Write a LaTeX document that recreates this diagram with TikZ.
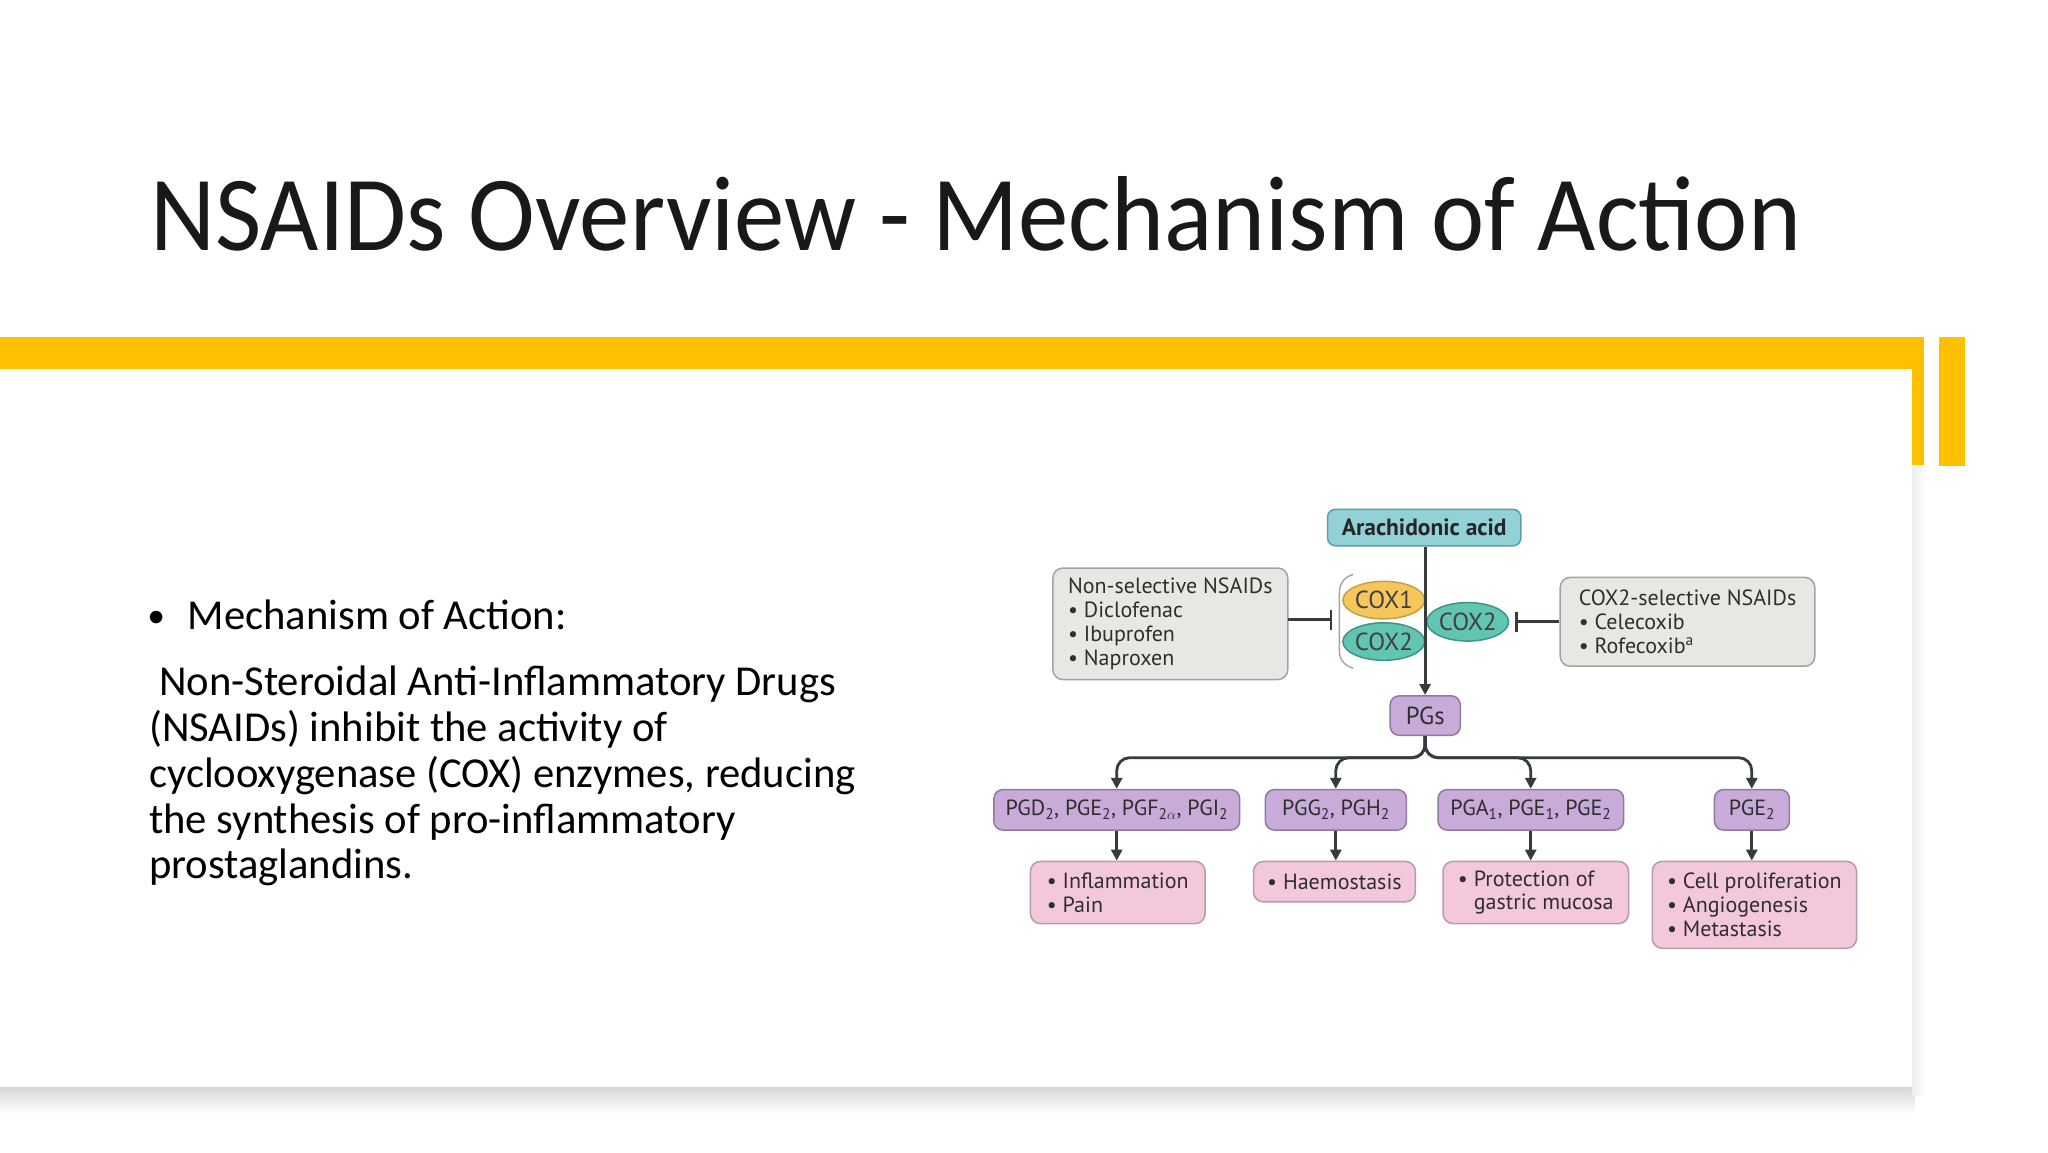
\documentclass[tikz,border=0pt]{standalone}
\usepackage{fontspec}
\setmainfont{Carlito}
\newfontfamily\dfont{PT Sans}
\usetikzlibrary{arrows.meta,calc,shapes.geometric}
\definecolor{gold}{HTML}{FFC000}
\definecolor{txt}{HTML}{2E2E2E}
\definecolor{arr}{HTML}{353C3E}
\definecolor{tealF}{HTML}{92D2D6}
\definecolor{tealD}{HTML}{5E9EA3}
\definecolor{grayF}{HTML}{E7E7E4}
\definecolor{grayD}{HTML}{A3A39F}
\definecolor{cox1F}{HTML}{F4C65C}
\definecolor{cox1D}{HTML}{C9A040}
\definecolor{cox2F}{HTML}{62C4B2}
\definecolor{cox2D}{HTML}{3E9488}
\definecolor{purF}{HTML}{C8ABD8}
\definecolor{purD}{HTML}{8E7AA2}
\definecolor{pinkF}{HTML}{F3C8DD}
\definecolor{pinkD}{HTML}{B999AB}
\tikzset{
  dtext/.style={font=\dfont\fontsize{22.3}{24}\selectfont, text=txt},
  tealbox/.style={draw=tealD, fill=tealF, line width=1.5pt, rounded corners=8pt, inner sep=0pt, text=black!85, font=\dfont\bfseries\fontsize{23.8}{25}\selectfont},
  graybox/.style={dtext, draw=grayD, fill=grayF, line width=1.5pt, rounded corners=10pt, inner sep=0pt, align=left, anchor=west},
  purbox/.style={dtext, draw=purD, fill=purF, line width=1.5pt, rounded corners=9pt, inner sep=0pt, text=black!82},
  pinkbox/.style={dtext, draw=pinkD, fill=pinkF, line width=1.5pt, rounded corners=10pt, inner sep=0pt, align=left, anchor=north, text=black!82},
  coxone/.style={font=\dfont\fontsize{25}{26}\selectfont, text=black!75, ellipse, draw=cox1D, fill=cox1F, line width=1.5pt, inner sep=0pt, minimum width=71pt, minimum height=38pt},
  coxtwo/.style={coxone, draw=cox2D, fill=cox2F},
  flow/.style={draw=arr, line width=2.8pt, -{Triangle[length=11pt,width=11pt]}},
  inhib/.style={draw=arr, line width=2.8pt, -{Bar[width=20pt,line width=2.8pt]}},
  body/.style={font=\fontsize{43.2}{46}\selectfont, text=black, inner sep=0pt, anchor=base west},
}
\begin{document}
\begin{tikzpicture}[x=1pt,y=-1pt]
\useasboundingbox (0,0) rectangle (2048,1152);
\fill[white] (0,0) rectangle (2048,1152);
\begin{scope}[scale=0.987, transform shape]
% slide decoration
\fill[gold] (0,341) rectangle (1949,472);
\fill[gold] (1965,341) rectangle (1991,472);
\shade[top color=black!16, bottom color=white] (0,1101) rectangle (1940,1128);
\shade[left color=black!7, right color=white] (1937,472) rectangle (1951,1110);
\fill[white] (0,374) rectangle (1937,1101);
% title
\node[font=\fontsize{108}{118}\selectfont, text=black!90, inner sep=0pt, anchor=base west, xscale=0.945] (title) at (152,254) {NSAIDs Overview - Mechanism of Action};
% body text
\node[body, font=\fontsize{36}{40}\selectfont] (bul) at (149,636) {•};
\node[body] (b0) at (190,638) {Mechanism of Action:};
\node[body] (b1) at (161,705) {Non-Steroidal Anti-Inflammatory Drugs};
\node[body] (b2) at (151,751) {(NSAIDs) inhibit the activity of};
\node[body] (b3) at (151,798) {cyclooxygenase (COX) enzymes, reducing};
\node[body] (b4) at (151,844) {the synthesis of pro-inflammatory};
\node[body] (b5) at (151,890) {prostaglandins.};
% diagram
\node[tealbox, minimum width=196pt, minimum height=37pt] (aa) at (1443,534.5) {Arachidonic acid};
\node[graybox, minimum width=238pt, minimum height=113pt, font=\dfont\fontsize{22.3}{24.5}\selectfont] (nons) at (1066,632) {Non-selective NSAIDs\\• Diclofenac\\• Ibuprofen\\• Naproxen};
\node[graybox, minimum width=258pt, minimum height=90pt] (csel) at (1580,630) {COX2-selective NSAIDs\\• Celecoxib\\• Rofecoxib\textsuperscript{a}};
\node[coxone] (cox1) at (1402,608) {COX1};
\node[coxtwo] (cox2a) at (1402,650) {COX2};
\node[coxtwo, minimum width=70pt, minimum height=39pt] (cox2b) at (1487,630) {COX2};
\node[purbox, font=\dfont\fontsize{25}{26}\selectfont, minimum width=71pt, minimum height=40pt] (pgs) at (1444,725) {PGs};
\draw[grayD, line width=1.4pt] (1371,582) to[out=195,in=90] (1357,600) -- (1357,660) to[out=-90,in=165] (1371,677);
\coordinate (brk) at (1350,628);
\draw[inhib] (nons.east |- brk) -- (brk);
\draw[inhib] (csel.west) -- ($(cox2b.east)+(6,0)$);
\draw[flow] (aa.south -| pgs.north) -- (pgs.north);
% row 1
\node[purbox, minimum width=249pt, minimum height=41pt] (r1a) at (1131.5,820.5) {PGD\textsubscript{2}, PGE\textsubscript{2}, PGF\textsubscript{2\ensuremath{\alpha}}, PGI\textsubscript{2}};
\node[purbox, minimum width=143pt, minimum height=41pt] (r1b) at (1353.5,820.5) {PGG\textsubscript{2}, PGH\textsubscript{2}};
\node[purbox, minimum width=188pt, minimum height=41pt] (r1c) at (1551,820.5) {PGA\textsubscript{1}, PGE\textsubscript{1}, PGE\textsubscript{2}};
\node[purbox, minimum width=76pt, minimum height=41pt] (r1d) at (1775,820.5) {PGE\textsubscript{2}};
\foreach \t in {r1a,r1b,r1c,r1d}
  \draw[flow, rounded corners=13pt] (pgs.south) -- ++(0,22) -| (\t.north);
% row 2
\node[pinkbox, minimum width=177pt, minimum height=63pt] (r2a) at (1132.5,872) {• Inflammation\\• Pain};
\node[pinkbox, minimum width=164pt, minimum height=41pt] (r2b) at (1352,872) {• Haemostasis};
\node[pinkbox, minimum width=188pt, minimum height=63pt] (r2c) at (1556,872) {• Protection of\\\phantom{• }gastric mucosa};
\node[pinkbox, minimum width=207pt, minimum height=88pt] (r2d) at (1777.5,872) {• Cell proliferation\\• Angiogenesis\\• Metastasis};
\draw[flow] (r1a.south) -- (r1a.south |- r2a.north);
\draw[flow] (r1b.south) -- (r1b.south |- r2b.north);
\draw[flow] (r1c.south) -- (r1c.south |- r2c.north);
\draw[flow] (r1d.south) -- (r1d.south |- r2d.north);
\end{scope}
\end{tikzpicture}
\end{document}
